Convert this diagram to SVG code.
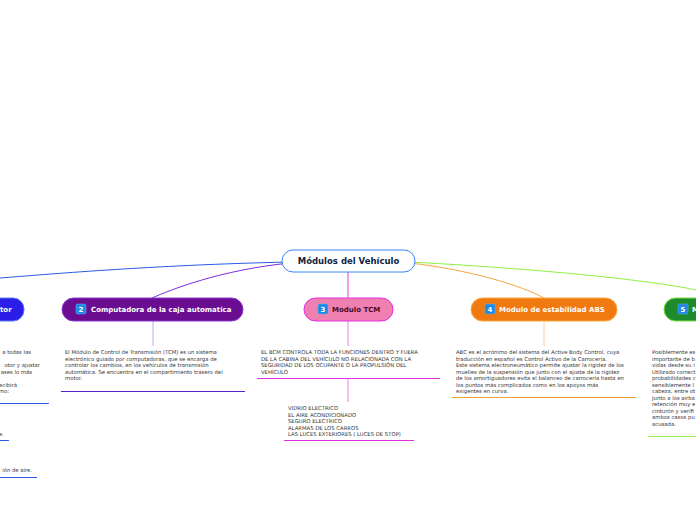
<svg xmlns="http://www.w3.org/2000/svg" width="696" height="520" viewBox="0 0 696 520">
<style>
.t{font-family:"DejaVu Sans",sans-serif;font-size:5.3px;fill:#333}
.n{font-family:"DejaVu Sans",sans-serif;font-size:7px;font-weight:bold;fill:#fff}
.c{fill:none;stroke-width:1}
.b{fill:#1e88e5;stroke:#64b5f6;stroke-width:0.5}
.bn{font-family:"DejaVu Sans",sans-serif;font-size:7px;font-weight:bold;fill:#fff;text-anchor:middle}
</style>
<rect width="696" height="520" fill="#fff"/>
<g id="connectors">
<path class="c" d="M290 262 C150 265 40 275 0 278" stroke="#2a5be8"/>
<path class="c" d="M290 263 C220 270 170 290 152 298" stroke="#7b2ae0"/>
<path class="c" d="M348 272 V298" stroke="#e040e0"/>
<path class="c" d="M410 263 C470 270 520 285 544 298" stroke="#f8a640"/>
<path class="c" d="M410 262 C560 270 660 282 696 290" stroke="#8ef040"/>
<path class="c" d="M153 321 V346" stroke="#c9a0f0"/>
<path class="c" d="M348 321 V346" stroke="#f080f0"/>
<path class="c" d="M348 379 V402" stroke="#f080f0"/>
<path class="c" d="M544 321 V346" stroke="#f8d0a0"/>
</g>
<g id="center">
<rect x="282" y="250" width="133" height="22" rx="11" fill="#fff" stroke="#3b82f6"/>
<text x="348.5" y="264" text-anchor="middle" font-family="DejaVu Sans,sans-serif" font-size="8.5" font-weight="bold" fill="#10233f">Módulos del Vehículo</text>
</g>
<g id="n1">
<rect x="-40" y="298" width="64" height="23" rx="11" fill="#2a1ee8" stroke="#5a7af0"/>
<text class="n" x="0" y="312">tor</text>
<g class="t" text-anchor="end">
<text x="31" y="354">a todas las</text>
<text x="40" y="367">otor y ajustar</text>
<text x="32" y="374">ases lo más</text>
<text x="17" y="387">ecibirá</text>
<text x="9" y="393">mo:</text>
<text x="4" y="436">e.</text>
<text x="32" y="472">ión de aire.</text>
</g>
<path d="M0 403.5H49M0 440.5H9M0 477.5H37" stroke="#2a5be8" stroke-width="1.2"/>
</g>
<g id="n2">
<rect x="62" y="298" width="181" height="23" rx="11.5" fill="#6a0d91" stroke="#8a3ad0"/>
<rect x="76" y="304" width="10" height="10" rx="1.5" class="b"/><text class="bn" x="81" y="312">2</text>
<text class="n" x="91" y="312">Computadora de la caja automatica</text>
<g class="t">
<text x="65" y="354">El Módulo de Control de Transmisión (TCM) es un sistema</text>
<text x="65" y="361">electrónico guiado por computadoras, que se encarga de</text>
<text x="65" y="367">controlar los cambios, en los vehículos de transmisión</text>
<text x="65" y="374">automática. Se encuentra en el compartimiento trasero del</text>
<text x="65" y="380">motor.</text>
</g>
<path d="M61 391.5H245" stroke="#5a22c8" stroke-width="1.2"/>
</g>
<g id="n3">
<rect x="304" y="298" width="89" height="23" rx="11.5" fill="#f080b0" stroke="#e030e0"/>
<rect x="318" y="304" width="10" height="10" rx="1.5" class="b"/><text class="bn" x="323" y="312">3</text>
<text class="n" x="332" y="312" fill="#4a0a2a" style="fill:#4a0a2a">Modulo TCM</text>
<g class="t">
<text x="261" y="354">EL BCM CONTROLA TODA LA FUNCIONES DENTRO Y FUERA</text>
<text x="261" y="361">DE LA CABINA DEL VEHÍCULO NO RELACIONADA CON LA</text>
<text x="261" y="367">SEGURIDAD DE LOS OCUPANTE O LA PROPULSIÓN DEL</text>
<text x="261" y="374">VEHÍCULO</text>
<text x="288" y="410">VIDRIO ELECTRICO</text>
<text x="288" y="417">EL AIRE ACONDICIONADO</text>
<text x="288" y="423">SEGURO ELECTRICO</text>
<text x="288" y="430">ALARMAS DE LOS CARROS</text>
<text x="288" y="436">LAS LUCES EXTERIORES ( LUCES DE STOP)</text>
</g>
<path d="M257 378.5H440M284 440.5H414" stroke="#e030e0" stroke-width="1.2"/>
</g>
<g id="n4">
<rect x="471" y="298" width="146" height="23" rx="11.5" fill="#f07a10" stroke="#f8a640"/>
<rect x="485" y="304" width="10" height="10" rx="1.5" class="b"/><text class="bn" x="490" y="312">4</text>
<text class="n" x="499" y="312">Modulo de estabilidad ABS</text>
<g class="t">
<text x="456" y="354">ABC es el acrónimo del sistema del Active Body Control, cuya</text>
<text x="456" y="361">traducción en español es Control Activo de la Carrocería.</text>
<text x="456" y="367">Este sistema electroneumático permite ajustar la rigidez de los</text>
<text x="456" y="374">muelles de la suspensión que junto con el ajuste de la rigidez</text>
<text x="456" y="380">de los amortiguadores evita el balanceo de carrocería hasta en</text>
<text x="456" y="387">los puntos más complicados como en los apoyos más</text>
<text x="456" y="393">exigentes en curva.</text>
</g>
<path d="M452 397.5H636" stroke="#f0a030" stroke-width="1.2"/>
</g>
<g id="n5">
<rect x="664" y="298" width="80" height="23" rx="11.5" fill="#1e8a2e" stroke="#7ae040"/>
<rect x="678" y="304" width="10" height="10" rx="1.5" class="b"/><text class="bn" x="683" y="312">5</text>
<text class="n" x="692" y="312">M</text>
<g class="t">
<text x="652" y="354">Posiblemente es</text>
<text x="652" y="361">importante de b</text>
<text x="652" y="367">vidas desde su i</text>
<text x="652" y="374">Utilizado correct</text>
<text x="652" y="380">probabilidades c</text>
<text x="652" y="387">sensiblemente l</text>
<text x="652" y="393">cabeza, entre ot</text>
<text x="652" y="400">Junto a los airba</text>
<text x="652" y="406">retención muy e</text>
<text x="652" y="413">cinturón y verifi</text>
<text x="652" y="419">ambos casos pu</text>
<text x="652" y="426">acusada.</text>
</g>
<path d="M648 436.5H696" stroke="#8ef040" stroke-width="1.2"/>
</g>
</svg>
